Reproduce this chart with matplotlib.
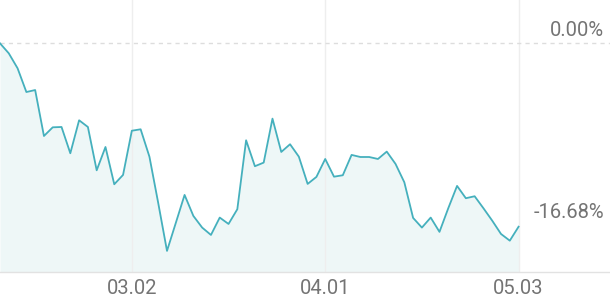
import matplotlib
matplotlib.use("Agg")
import matplotlib.pyplot as plt

# cumulative return, %
returns = [0.00, -0.91, -2.27, -4.43, -4.25, -8.43, -7.64, -7.61, -10.00, -7.00,
           -7.61, -11.55, -9.43, -12.82, -11.97, -7.95, -7.82, -10.31, -14.52, -18.88,
           -16.34, -13.79, -15.70, -16.76, -17.43, -15.85, -16.43, -15.09, -8.82, -11.18,
           -10.85, -6.85, -9.88, -9.18, -10.31, -12.79, -12.15, -10.52, -12.13, -12.00,
           -10.15, -10.34, -10.34, -10.52, -9.85, -10.97, -12.64, -15.88, -16.76, -15.85,
           -17.15, -15.00, -12.97, -14.09, -13.91, -15.00, -16.13, -17.34, -17.95, -16.68]
tick_pos = [15, 37, 59]
tick_labels = ["03.02", "04.01", "05.03"]
last_label = "-16.68%"
zero_label = "0.00%"

plt.rcParams["font.family"] = ["Roboto", "DejaVu Sans"]
txt_color = "#747474"

fig = plt.figure(figsize=(6.1, 3.0), dpi=100)
ax = fig.add_axes([0, 28 / 300, 1, 272 / 300])

x = list(range(len(returns)))
ymin, ymax = -20.8, 3.94
ax.fill_between(x, returns, ymin, color="#eef7f7", lw=0, zorder=1)
ax.plot(x, returns, color="#45b0bd", lw=1.3, zorder=3)

for p in tick_pos:
    ax.axvline(p, color="#eeeeee", lw=1, zorder=2)
ax.axhline(0, color="#dddddd", lw=1, ls=(0, (3, 3)), zorder=2)

ax.set_xlim(0, 69.4)
ax.set_ylim(ymin, ymax)

for s in ["top", "left", "right"]:
    ax.spines[s].set_visible(False)
ax.spines["bottom"].set_color("#e2e2e2")
ax.spines["bottom"].set_linewidth(1)
ax.set_yticks([])
ax.set_xticks(tick_pos)
ax.set_xticklabels(tick_labels, fontsize=14.5, color=txt_color)
ax.tick_params(axis="x", length=0, pad=5)

ax.annotate(zero_label, xy=(1, 0), xycoords=("axes fraction", "data"),
            xytext=(-4, 9.5), textcoords="offset points", ha="right", va="center",
            fontsize=14.5, color=txt_color)
ax.annotate(last_label, xy=(1, returns[-1]), xycoords=("axes fraction", "data"),
            xytext=(-4, 10.5), textcoords="offset points", ha="right", va="center",
            fontsize=14.5, color=txt_color)

fig.savefig("out.png", dpi=100)
